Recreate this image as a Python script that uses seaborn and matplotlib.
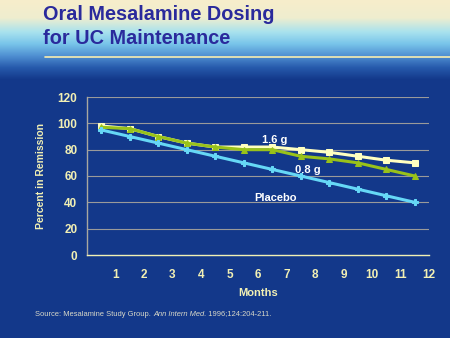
import numpy as np
import pandas as pd
import matplotlib
matplotlib.use("Agg")
import matplotlib.pyplot as plt
import seaborn as sns
from matplotlib.colors import LinearSegmentedColormap

months = [0.5, 1.5, 2.5, 3.5, 4.5, 5.5, 6.5, 7.5, 8.5, 9.5, 10.5, 11.5]
dose_16 = [98, 96, 90, 85, 82, 82, 82, 80, 78, 75, 72, 70]
dose_08 = [97, 96, 90, 85, 82, 80, 80, 75, 73, 70, 65, 60]
placebo = [95, 90, 85, 80, 75, 70, 65, 60, 55, 50, 45, 40]
series_names = ["1.6 g", "0.8 g", "Placebo"]
x_ticks = list(range(1, 13))
y_ticks = [0, 20, 40, 60, 80, 100, 120]

sns.set_style("white")
plt.rcParams['font.family'] = ['Liberation Sans', 'DejaVu Sans']

BG = "#13388a"
TXT = "#f2f0b4"

fig = plt.figure(figsize=(4.5, 3.38), dpi=100)
fig.patch.set_facecolor(BG)

# header gradient
hdr = fig.add_axes([0, 1 - 80 / 338, 1, 80 / 338])
hdr.axis("off")
cmap = LinearSegmentedColormap.from_list("hdr", [
    (0.0, "#f7edcb"), (0.22, "#efeecf"), (0.40, "#a8e2ee"),
    (0.55, "#78c4ea"), (0.70, "#4f8fd2"), (0.85, "#2659ab"), (1.0, BG)])
grad = np.linspace(0, 1, 200).reshape(-1, 1)
hdr.imshow(grad, aspect="auto", cmap=cmap, extent=[0, 1, 0, 1], origin="upper")
hdr.set_xlim(0, 1)
hdr.set_ylim(0, 1)
fig.add_artist(plt.Line2D([45 / 450, 1], [1 - 57 / 338, 1 - 57 / 338],
                          color="#f8eeb0", lw=1.2))
fig.text(43 / 450, 1 - 15 / 338, "Oral Mesalamine Dosing", color="#2a2a9c",
         fontsize=14.3, fontweight="bold", va="center", ha="left")
fig.text(43 / 450, 1 - 39 / 338, "for UC Maintenance", color="#2a2a9c",
         fontsize=14.3, fontweight="bold", va="center", ha="left")

ax = fig.add_axes([87 / 450, 1 - 255 / 338, 342 / 450, 158 / 338])
ax.set_facecolor(BG)

df = pd.DataFrame({
    "Month": months * 3,
    "Percent": dose_16 + dose_08 + placebo,
    "Group": [series_names[0]] * 12 + [series_names[1]] * 12 + [series_names[2]] * 12,
})
colors = {"1.6 g": "#ffffc0", "0.8 g": "#99c21a", "Placebo": "#66d8f6"}
markers = {"1.6 g": "s", "0.8 g": "^", "Placebo": "P"}
for name in series_names:
    sub = df[df["Group"] == name]
    sns.lineplot(data=sub, x="Month", y="Percent", ax=ax, color=colors[name],
                 marker=markers[name], markersize=5, lw=2.2,
                 markeredgecolor=colors[name], legend=False,
                 zorder=3 if name == "1.6 g" else 4)

ax.set_xlim(0, 12)
ax.set_ylim(0, 120)
ax.set_xticks(x_ticks)
ax.set_yticks(y_ticks)
ax.set_xticklabels([str(t) for t in x_ticks], color=TXT, fontsize=8.5, fontweight="bold")
ax.set_yticklabels([str(t) for t in y_ticks], color=TXT, fontsize=8.5, fontweight="bold")
ax.tick_params(axis="x", direction="out", length=4, color=TXT, width=0.8, pad=6)
ax.tick_params(axis="y", direction="out", length=3, color="#a8a8a0", width=0.8, pad=4)
for y in y_ticks[1:]:
    ax.axhline(y, color="#9a9a9a", lw=0.8, zorder=1)
for s in ["top", "right"]:
    ax.spines[s].set_visible(False)
ax.spines["left"].set_color("#a8a8a0")
ax.spines["left"].set_linewidth(1.0)
ax.spines["bottom"].set_color(TXT)
ax.spines["bottom"].set_linewidth(1.0)
ax.set_xlabel("Months", color=TXT, fontsize=8, fontweight="bold", labelpad=5)
ax.set_ylabel("Percent in Remission", color=TXT, fontsize=7.5, fontweight="bold", labelpad=8)

ax.text(6.6, 87, "1.6 g", color="white", fontsize=8, fontweight="bold", ha="center", va="center")
ax.text(7.75, 64.5, "0.8 g", color="white", fontsize=8, fontweight="bold", ha="center", va="center")
ax.text(6.6, 43, "Placebo", color="white", fontsize=8, fontweight="bold", ha="center", va="center")

# source line, chained pieces
fig.canvas.draw()
renderer = fig.canvas.get_renderer()
parts = [("Source: Mesalamine Study Group. ", "normal"),
         ("Ann Intern Med", "italic"),
         (". 1996;124:204-211.", "normal")]
xpix = 35
for txt, sty in parts:
    t = fig.text(xpix / 450, 1 - 314 / 338, txt, color="#d8d8c8",
                 fontsize=5.4, va="center", ha="left", style=sty)
    bb = t.get_window_extent(renderer=renderer)
    xpix += bb.width

fig.savefig("out.png", dpi=100, facecolor=BG)
